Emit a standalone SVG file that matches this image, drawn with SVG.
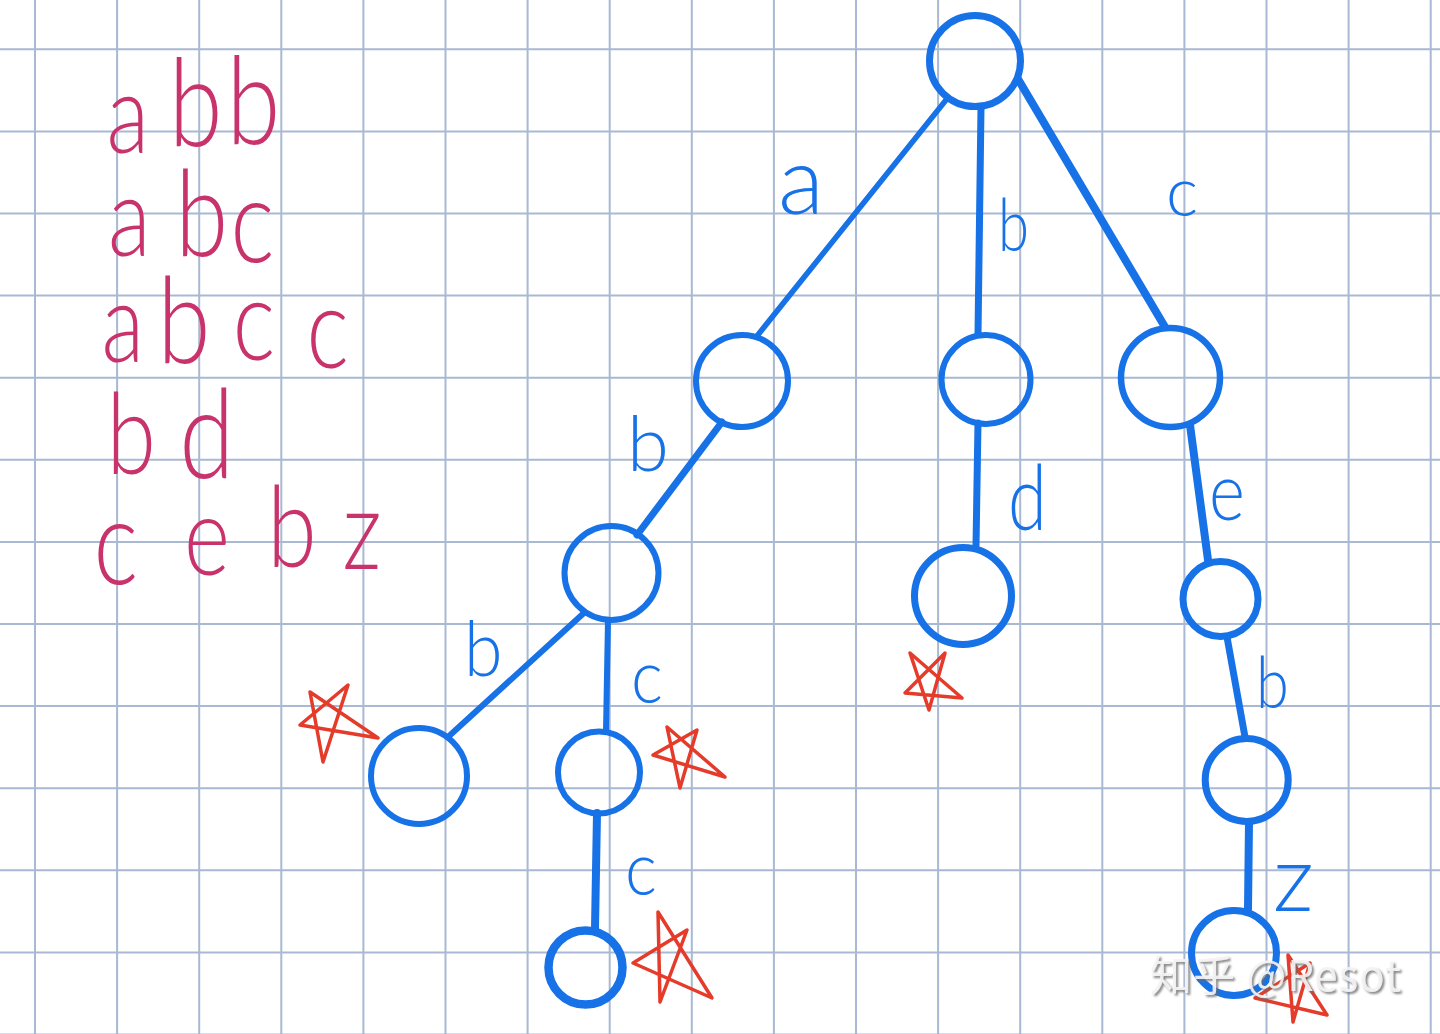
<svg xmlns="http://www.w3.org/2000/svg" width="1440" height="1034" viewBox="0 0 1440 1034">
<defs>
<style>
.grid{stroke:#a9b8d3;stroke-width:2;fill:none}
.node{fill:none;stroke:#1672e6}
.edge{stroke:#1672e6;stroke-linecap:round;fill:none}
.lbl{font-family:Lato,"Open Sans","Liberation Sans",sans-serif;font-weight:300;fill:#1672e6}
.word{font-family:Lato,"Open Sans","Liberation Sans",sans-serif;font-weight:300;fill:#c9336b}
.star{fill:none;stroke:#e53b2a;stroke-width:3.5;stroke-linejoin:round;stroke-linecap:round}
.wm{font-family:"Noto Sans CJK SC","Liberation Sans",sans-serif;font-size:42px;letter-spacing:1px;fill:#f4f4f4;fill-opacity:0.9}
</style>
<filter id="shadow" x="-10%" y="-30%" width="120%" height="160%">
<feDropShadow dx="2" dy="2" stdDeviation="1.2" flood-color="#6b6b6b" flood-opacity="0.9"/>
</filter>
</defs>
<rect width="1440" height="1034" fill="#ffffff"/>
<g id="grid">
<path class="grid" d="M35,0V1034 M117.1,0V1034 M199.2,0V1034 M281.3,0V1034 M363.4,0V1034 M445.5,0V1034 M527.6,0V1034 M609.7,0V1034 M691.8,0V1034 M773.9,0V1034 M856,0V1034 M938.1,0V1034 M1020.2,0V1034 M1102.3,0V1034 M1184.4,0V1034 M1266.5,0V1034 M1348.6,0V1034 M1430.7,0V1034
M0,49.3H1440 M0,131.4H1440 M0,213.5H1440 M0,295.6H1440 M0,377.7H1440 M0,459.8H1440 M0,541.9H1440 M0,624H1440 M0,706.1H1440 M0,788.2H1440 M0,870.3H1440 M0,952.4H1440 M0,1034.5H1440"/>
</g>
<g id="words">
<text class="word" font-size="110" transform="scale(0.8,1)"><tspan x="133" y="153">a</tspan><tspan x="211" y="146" font-size="122">b</tspan><tspan x="283" y="144" font-size="122">b</tspan></text>
<text class="word" font-size="110" transform="scale(0.8,1)"><tspan x="135" y="256">a</tspan><tspan x="219" y="256" font-size="120">b</tspan><tspan x="288" y="262" font-size="116">c</tspan></text>
<text class="word" font-size="110" transform="scale(0.8,1)"><tspan x="127" y="362">a</tspan><tspan x="197" y="363" font-size="120">b</tspan><tspan x="291" y="360" font-size="112">c</tspan><tspan x="383" y="368" font-size="112">c</tspan></text>
<text class="word" font-size="110" transform="scale(0.8,1)"><tspan x="133" y="474" font-size="112">b</tspan><tspan x="224" y="478" font-size="125">d</tspan></text>
<text class="word" font-size="110" transform="scale(0.8,1)"><tspan x="117" y="584" font-size="118">c</tspan><tspan x="230" y="575">e</tspan><tspan x="334" y="567" font-size="112">b</tspan><tspan x="428" y="569">z</tspan></text>
</g>
<g id="connectors">
<line class="edge" stroke-width="5.5" x1="946" y1="100" x2="757" y2="336"/>
<line class="edge" stroke-width="7" x1="981" y1="107" x2="978" y2="334"/>
<line class="edge" stroke-width="8" x1="1018" y1="79" x2="1165" y2="327"/>
<line class="edge" stroke-width="7" x1="722" y1="422" x2="637" y2="535"/>
<line class="edge" stroke-width="6" x1="585" y1="612" x2="448" y2="737"/>
<line class="edge" stroke-width="6" x1="608" y1="620" x2="606" y2="731"/>
<line class="edge" stroke-width="8" x1="597" y1="813" x2="595" y2="928"/>
<line class="edge" stroke-width="7" x1="978" y1="423" x2="976" y2="546"/>
<line class="edge" stroke-width="8" x1="1190" y1="425" x2="1208" y2="560"/>
<line class="edge" stroke-width="7" x1="1227" y1="637" x2="1245" y2="737"/>
<line class="edge" stroke-width="8" x1="1249" y1="822" x2="1248" y2="909"/>
<g id="edge-labels">
<text class="lbl" font-size="95" x="778" y="214">a</text>
<text class="lbl" font-size="72" transform="translate(998,251) scale(0.78,1)">b</text>
<text class="lbl" font-size="68" x="1166" y="216">c</text>
<text class="lbl" font-size="76" x="627" y="471">b</text>
<text class="lbl" font-size="90" transform="translate(1008,530) scale(0.78,1)">d</text>
<text class="lbl" font-size="80" transform="translate(1209,520) scale(0.86,1)">e</text>
<text class="lbl" font-size="70" transform="translate(1256,708) scale(0.85,1)">b</text>
<text class="lbl" font-size="76" transform="translate(464,676) scale(0.92,1)">b</text>
<text class="lbl" font-size="75" transform="translate(631,703) scale(0.9,1)">c</text>
<text class="lbl" font-size="75" transform="translate(625,895) scale(0.9,1)">c</text>
<text class="lbl" font-size="92" x="1273" y="911">z</text>
</g>
</g>
<g id="node-root"><circle class="node" stroke-width="7" cx="975" cy="61" r="45.5"/></g>
<g id="node-a"><circle class="node" stroke-width="6" cx="742" cy="381" r="46"/></g>
<g id="node-b"><circle class="node" stroke-width="6" cx="986" cy="379.5" r="44.5"/></g>
<g id="node-c"><circle class="node" stroke-width="6.5" cx="1170.5" cy="377.5" r="49.5"/></g>
<g id="node-ab"><circle class="node" stroke-width="6" cx="611.5" cy="573" r="47"/></g>
<g id="node-abb"><circle class="node" stroke-width="6" cx="419" cy="776" r="48"/><path class="star" d="M348,685 L323,762 L310,692 L378,738 L300,725 Z"/></g>
<g id="node-abc"><circle class="node" stroke-width="6" cx="599" cy="772.5" r="41"/><path class="star" d="M697,730 L680,788 L667,727 L725,777 L653,755 Z"/></g>
<g id="node-abcc"><circle class="node" stroke-width="8.5" cx="585.5" cy="967.5" r="37"/><path class="star" d="M687,930 L660,1002 L658,912 L712,998 L633,963 Z"/></g>
<g id="node-bd"><circle class="node" stroke-width="7" cx="963" cy="596" r="48.5"/><path class="star" d="M945,653 L929,710 L910,653 L962,698 L905,693 Z"/></g>
<g id="node-ce"><circle class="node" stroke-width="7" cx="1220.5" cy="599" r="37.5"/></g>
<g id="node-ceb"><circle class="node" stroke-width="7" cx="1246.7" cy="780" r="41.5"/></g>
<g id="node-cebz"><circle class="node" stroke-width="7" cx="1234" cy="953" r="42.5"/><path class="star" d="M1310,963 L1293,1022 L1288,955 L1327,1015 L1255,998 Z"/></g>
<text class="wm" x="1150" y="991" filter="url(#shadow)">知乎 @Resot</text>
</svg>
